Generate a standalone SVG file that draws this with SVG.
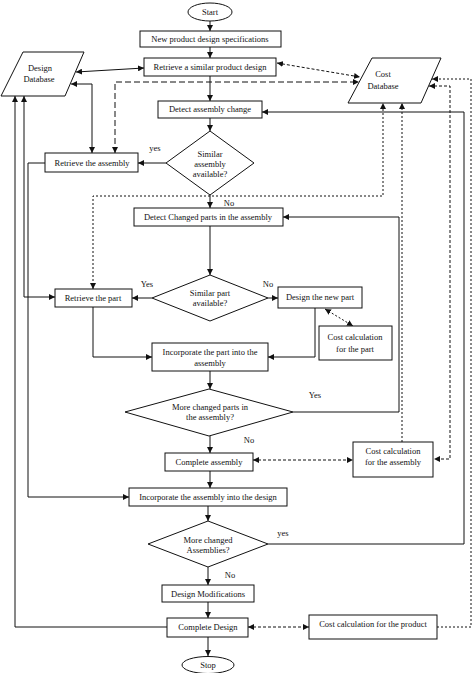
<svg xmlns="http://www.w3.org/2000/svg" width="474" height="673" viewBox="0 0 474 673">
<style>
.n{fill:#fff;stroke:#111;stroke-width:1}
.t{font-family:"Liberation Serif",serif;font-size:8.5px;fill:#111;text-anchor:middle}
.c{fill:none;stroke:#111;stroke-width:1}
.dot{stroke-dasharray:2,2}
.dsh{stroke-dasharray:6,3}
.md{stroke-dasharray:3,2}
</style>
<defs>
<marker id="a" viewBox="0 0 6 6" refX="6" refY="3" markerWidth="6" markerHeight="6" markerUnits="userSpaceOnUse" orient="auto-start-reverse">
<path d="M0,0 L6,3 L0,6 z" fill="#111"/>
</marker>
</defs>
<rect width="474" height="673" fill="#fff"/>
<g id="connectors">
<path class="c" d="M210,21 L210,31" marker-end="url(#a)"/>
<path class="c" d="M210,47 L210,58" marker-end="url(#a)"/>
<path class="c" d="M210,76 L210,101" marker-end="url(#a)"/>
<path class="c" d="M210,118 L210,131" marker-end="url(#a)"/>
<path class="c" d="M166,163 L138,163" marker-end="url(#a)"/>
<path class="c" d="M210,195 L210,208" marker-end="url(#a)"/>
<path class="c" d="M210,226 L210,275" marker-end="url(#a)"/>
<path class="c" d="M152,298 L132,298" marker-end="url(#a)"/>
<path class="c" d="M268,298 L278,298" marker-end="url(#a)"/>
<path class="c" d="M93,307 L93,357 L152,357" marker-end="url(#a)"/>
<path class="c" d="M315,308 L315,357 L268,357" marker-end="url(#a)"/>
<path class="c" d="M210,371 L210,389" marker-end="url(#a)"/>
<path class="c" d="M293,412 L399,412 L399,217 L283,217" marker-end="url(#a)"/>
<path class="c" d="M210,436 L210,453" marker-end="url(#a)"/>
<path class="c" d="M210,471 L210,488" marker-end="url(#a)"/>
<path class="c" d="M208,506 L208,521" marker-end="url(#a)"/>
<path class="c" d="M208,567 L208,585" marker-end="url(#a)"/>
<path class="c" d="M208,602 L208,618" marker-end="url(#a)"/>
<path class="c" d="M208,637 L208,656" marker-end="url(#a)"/>
<path class="c" d="M268,544 L464,544 L464,112 L262,112" marker-end="url(#a)"/>
<path class="c" d="M45,163 L28,163 L28,497 L129,497" marker-end="url(#a)"/>
<path class="c" d="M167,627 L15,627 L15,96" marker-end="url(#a)"/>
<path class="c" d="M24,96 L24,297 L55,297" marker-start="url(#a)" marker-end="url(#a)"/>
<path class="c" d="M76,72 L144,68" marker-start="url(#a)" marker-end="url(#a)"/>
<path class="c" d="M71,84 L92,84 L92,153" marker-start="url(#a)" marker-end="url(#a)"/>
<path class="c md" d="M277,63 L360,77" marker-start="url(#a)" marker-end="url(#a)"/>
<path class="c dsh" d="M115,153 L115,82 L359,82" marker-start="url(#a)" marker-end="url(#a)"/>
<path class="c dot" d="M93,289 L93,196 L383,196 L383,103" marker-start="url(#a)" marker-end="url(#a)"/>
<path class="c dot" d="M402,442 L402,103" marker-end="url(#a)"/>
<path class="c md" d="M429,86 L450,86 L450,459 L434,459" marker-start="url(#a)" marker-end="url(#a)"/>
<path class="c dot" d="M437,627 L471,627 L471,79 L432,79" marker-end="url(#a)"/>
<path class="c md" d="M253,460 L353,460" marker-start="url(#a)" marker-end="url(#a)"/>
<path class="c md" d="M248,627 L309,627" marker-start="url(#a)" marker-end="url(#a)"/>
<path class="c dot" d="M325,309 L353,326" marker-start="url(#a)" marker-end="url(#a)"/>
</g>
<g id="start"><ellipse class="n" cx="210" cy="12" rx="22" ry="9"/><text class="t" x="210" y="15">Start</text></g>
<g id="spec"><rect class="n" x="140" y="31" width="141" height="16"/><text class="t" x="210" y="42">New product design specifications</text></g>
<g id="retrieveSimilar"><rect class="n" x="144" y="58" width="132" height="18"/><text class="t" x="210" y="70">Retrieve a similar product design</text></g>
<g id="designDB"><polygon class="n" points="23,52 84,52 65,96 1,96"/><text class="t" x="40" y="71">Design</text><text class="t" x="39" y="82">Database</text></g>
<g id="costDB"><polygon class="n" points="372,58 441,58 421,103 348,103"/><text class="t" x="383" y="77">Cost</text><text class="t" x="383" y="89">Database</text></g>
<g id="detectAssembly"><rect class="n" x="158" y="101" width="104" height="17"/><text class="t" x="210" y="112">Detect assembly change</text></g>
<g id="similarAssembly"><polygon class="n" points="210,131 254,163 210,195 166,163"/><text class="t" x="210" y="157">Similar</text><text class="t" x="210" y="167">assembly</text><text class="t" x="210" y="177">available?</text></g>
<g id="retrieveAssembly"><rect class="n" x="45" y="153" width="93" height="19"/><text class="t" x="92" y="166">Retrieve the assembly</text></g>
<g id="detectParts"><rect class="n" x="134" y="208" width="149" height="18"/><text class="t" x="208" y="220">Detect Changed parts in the assembly</text></g>
<g id="similarPart"><polygon class="n" points="210,275 268,298 210,321 152,298"/><text class="t" x="210" y="296">Similar part</text><text class="t" x="210" y="306">available?</text></g>
<g id="retrievePart"><rect class="n" x="55" y="289" width="77" height="18"/><text class="t" x="93" y="301">Retrieve the part</text></g>
<g id="designPart"><rect class="n" x="278" y="287" width="84" height="21"/><text class="t" x="320" y="300">Design the new part</text></g>
<g id="costPart"><rect class="n" x="319" y="326" width="73" height="34"/><text class="t" x="355" y="340">Cost calculation</text><text class="t" x="355" y="352">for the part</text></g>
<g id="incorpPart"><rect class="n" x="152" y="343" width="116" height="28"/><text class="t" x="210" y="355">Incorporate the part into the</text><text class="t" x="210" y="366">assembly</text></g>
<g id="moreParts"><polygon class="n" points="209,389 293,412 209,436 125,412"/><text class="t" x="210" y="410">More changed parts in</text><text class="t" x="210" y="420">the assembly?</text></g>
<g id="completeAssembly"><rect class="n" x="165" y="453" width="88" height="18"/><text class="t" x="209" y="465">Complete assembly</text></g>
<g id="costAssembly"><rect class="n" x="353" y="442" width="80" height="35"/><text class="t" x="393" y="454">Cost calculation</text><text class="t" x="393" y="465">for the assembly</text></g>
<g id="incorpAssembly"><rect class="n" x="129" y="488" width="158" height="18"/><text class="t" x="208" y="500">Incorporate the assembly into the design</text></g>
<g id="moreAssemblies"><polygon class="n" points="208,521 268,544 208,567 148,544"/><text class="t" x="208" y="543">More changed</text><text class="t" x="208" y="553">Assemblies?</text></g>
<g id="designMods"><rect class="n" x="162" y="585" width="92" height="17"/><text class="t" x="208" y="597">Design Modifications</text></g>
<g id="completeDesign"><rect class="n" x="167" y="618" width="81" height="19"/><text class="t" x="208" y="630">Complete Design</text></g>
<g id="costProduct"><rect class="n" x="309" y="615" width="128" height="24"/><text class="t" x="373" y="627">Cost calculation for the product</text></g>
<g id="stop"><ellipse class="n" cx="208" cy="665" rx="26" ry="8.5"/><text class="t" x="208" y="668">Stop</text></g>
<g id="labels">
<text class="t" x="155" y="151">yes</text>
<text class="t" x="229" y="206">No</text>
<text class="t" x="147" y="287">Yes</text>
<text class="t" x="268" y="287">No</text>
<text class="t" x="315" y="398">Yes</text>
<text class="t" x="249" y="443">No</text>
<text class="t" x="283" y="536">yes</text>
<text class="t" x="230" y="578">No</text>
</g>
</svg>
